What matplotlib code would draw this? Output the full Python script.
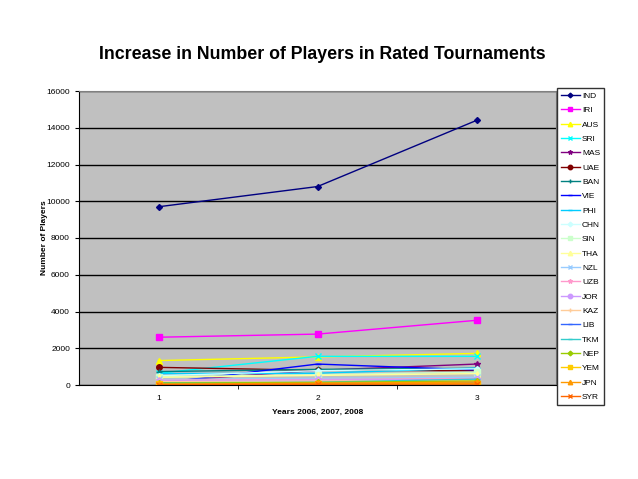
import matplotlib
matplotlib.use("Agg")
import matplotlib.pyplot as plt
from matplotlib.ticker import FixedLocator

plt.rcParams['font.family'] = ['Liberation Sans', 'DejaVu Sans']

years = [1, 2, 3]
countries = ['IND', 'IRI', 'AUS', 'SRI', 'MAS', 'UAE', 'BAN', 'VIE', 'PHI', 'CHN', 'SIN',
             'THA', 'NZL', 'UZB', 'JOR', 'KAZ', 'LIB', 'TKM', 'NEP', 'YEM', 'JPN', 'SYR']
players = [
    [9700, 10800, 14400],   # IND
    [2600, 2770, 3520],     # IRI
    [1330, 1530, 1720],     # AUS
    [640, 1560, 1560],      # SRI
    [180, 800, 1140],       # MAS
    [960, 800, 780],        # UAE
    [730, 850, 910],        # BAN
    [90, 1140, 820],        # VIE
    [620, 640, 920],        # PHI
    [500, 780, 880],        # CHN
    [450, 560, 700],        # SIN
    [420, 520, 620],        # THA
    [300, 360, 420],        # NZL
    [260, 300, 350],        # UZB
    [220, 260, 300],        # JOR
    [180, 210, 250],        # KAZ
    [60, 80, 120],          # LIB
    [120, 150, 320],        # TKM
    [100, 140, 220],        # NEP
    [30, 60, 80],           # YEM
    [40, 100, 160],         # JPN
    [20, 40, 50],           # SYR
]
colors = ['#000080', '#FF00FF', '#FFFF00', '#00FFFF', '#800080', '#800000', '#008080',
          '#0000FF', '#00CCFF', '#CCFFFF', '#CCFFCC', '#FFFF99', '#99CCFF', '#FF99CC',
          '#CC99FF', '#FFCC99', '#3366FF', '#33CCCC', '#99CC00', '#FFCC00', '#FF9900',
          '#FF6600']
markers = ['D', 's', '^', 'x', '*', 'o', '+', '_', '_', 'D', 's', '^', 'x', '*', 'o',
           '+', '_', '_', 'D', 's', '^', 'x']

fig = plt.figure(figsize=(6.38, 4.79), dpi=100)
ax = fig.add_axes([79/638, 94/479, 477/638, 294/479])
ax.set_facecolor('#C0C0C0')

for name, vals, c, m in zip(countries, players, colors, markers):
    ms = 3 if m == 'D' else 4
    ax.plot(years, vals, color=c, marker=m, markersize=ms, linewidth=1,
            markeredgewidth=1, label=name)

ax.set_xlim(0.5, 3.5)
ax.set_ylim(0, 16000)
ax.set_yticks(range(0, 16001, 2000))
ax.set_xticks(years)
ax.xaxis.set_minor_locator(FixedLocator([1.5, 2.5]))
ax.tick_params(axis='x', which='major', length=0, labelsize=6, pad=7)
ax.tick_params(axis='x', which='minor', length=3, direction='out')
ax.tick_params(axis='y', length=3, direction='out', labelsize=6)
ax.grid(axis='y', color='black', linewidth=1)
ax.set_axisbelow(True)
for s in ['top', 'right']:
    ax.spines[s].set_color('#808080')
ax.spines['left'].set_color('black')
ax.spines['bottom'].set_color('black')

ax.set_xlabel('Years 2006, 2007, 2008', fontsize=6, fontweight='bold', labelpad=5)
ax.set_ylabel('Number of Players', fontsize=6, fontweight='bold', labelpad=-1)
fig.suptitle('Increase in Number of Players in Rated Tournaments', fontsize=12.8,
             fontweight='bold', x=0.505, y=0.905)

leg = ax.legend(loc='upper left', bbox_to_anchor=(557/638, 1 - 88/479),
                bbox_transform=fig.transFigure, fontsize=6, frameon=True,
                fancybox=False, edgecolor='black', handlelength=2.2,
                handletextpad=0.3, labelspacing=0.78, borderpad=0.5,
                borderaxespad=0, markerscale=0.8)
leg.get_frame().set_linewidth(1)

fig.savefig('out.png', dpi=100)
